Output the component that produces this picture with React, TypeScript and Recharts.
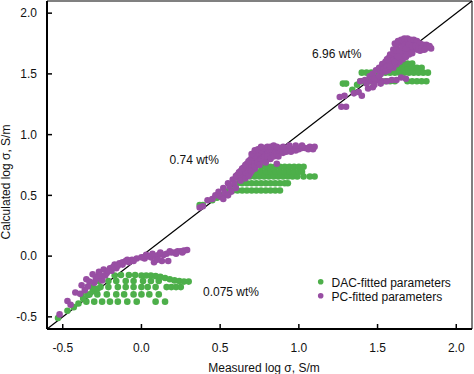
import { ScatterChart, Scatter, XAxis, YAxis, ReferenceLine } from 'recharts'

type Pt = [number, number]

// DAC-fitted parameters (green)
const dacLow: Pt[] = [
  [-0.53, -0.51], [-0.47, -0.45], [-0.43, -0.42], [-0.40, -0.39], [-0.37, -0.35], [-0.34, -0.32], [-0.31, -0.29], [-0.28, -0.27],
  [-0.35, -0.375], [-0.30, -0.375], [-0.25, -0.375], [-0.20, -0.375], [-0.15, -0.375], [-0.09, -0.375], [-0.03, -0.375], [0.09, -0.375], [0.15, -0.375],
  [-0.38, -0.315], [-0.33, -0.315], [-0.28, -0.315], [-0.22, -0.315], [-0.16, -0.315], [-0.11, -0.315], [-0.05, -0.315], [0.0, -0.315], [0.05, -0.315], [0.11, -0.315],
  [-0.31, -0.255], [-0.26, -0.255], [-0.21, -0.255], [-0.15, -0.255], [-0.10, -0.255], [-0.05, -0.255], [0.0, -0.255], [0.04, -0.255], [0.09, -0.255], [0.16, -0.255], [0.19, -0.255], [0.22, -0.255], [0.25, -0.255],
  [-0.27, -0.205], [-0.21, -0.205], [-0.16, -0.205], [-0.10, -0.205], [-0.05, -0.205], [0.01, -0.205], [0.06, -0.205], [0.11, -0.205],
  [-0.17, -0.16], [-0.13, -0.155], [-0.08, -0.155], [-0.04, -0.155], [0.0, -0.16], [0.03, -0.16], [0.06, -0.16], [0.09, -0.165], [0.12, -0.17],
  [0.15, -0.18], [0.18, -0.19], [0.21, -0.20], [0.24, -0.205], [0.27, -0.21], [0.30, -0.21],
]
const dacMid: Pt[] = [
  [0.37, 0.42], [0.39, 0.42], [0.45, 0.46], [0.48, 0.48], [0.51, 0.50], [0.54, 0.53], [0.56, 0.55],
  [0.58, 0.54], [0.61, 0.54], [0.64, 0.54], [0.67, 0.54], [0.70, 0.54], [0.73, 0.54], [0.76, 0.54], [0.79, 0.54], [0.82, 0.54], [0.85, 0.54], [0.88, 0.54],
  [0.61, 0.60], [0.64, 0.60], [0.67, 0.60], [0.70, 0.60], [0.73, 0.60], [0.76, 0.60], [0.79, 0.60], [0.82, 0.60], [0.85, 0.60], [0.88, 0.60], [0.91, 0.60], [0.93, 0.60],
  [0.66, 0.655], [0.69, 0.655], [0.72, 0.655], [0.75, 0.655], [0.78, 0.655], [0.81, 0.655], [0.84, 0.655], [0.87, 0.655], [0.90, 0.655], [0.93, 0.655], [0.96, 0.655], [0.99, 0.655], [1.03, 0.655], [1.07, 0.655], [1.10, 0.655],
  [0.70, 0.695], [0.73, 0.695], [0.76, 0.695], [0.79, 0.695], [0.82, 0.695], [0.85, 0.695], [0.88, 0.695], [0.91, 0.695], [0.94, 0.695], [0.97, 0.695], [1.00, 0.695], [1.02, 0.695],
  [0.76, 0.735], [0.79, 0.735], [0.82, 0.735], [0.85, 0.735], [0.88, 0.735], [0.91, 0.735], [0.94, 0.735], [0.97, 0.735], [1.00, 0.735], [1.03, 0.735],
]
const dacHigh: Pt[] = [
  [1.28, 1.42], [1.30, 1.42], [1.34, 1.37], [1.37, 1.41], [1.40, 1.44],
  [1.39, 1.44], [1.42, 1.44], [1.45, 1.44], [1.48, 1.44], [1.52, 1.44], [1.55, 1.44], [1.58, 1.44], [1.61, 1.44], [1.69, 1.44], [1.72, 1.44], [1.75, 1.44], [1.78, 1.44], [1.81, 1.44],
  [1.40, 1.51], [1.43, 1.51], [1.46, 1.51], [1.49, 1.51], [1.52, 1.51], [1.55, 1.51], [1.58, 1.51], [1.61, 1.51], [1.64, 1.51], [1.67, 1.51], [1.70, 1.51], [1.73, 1.51], [1.76, 1.51], [1.79, 1.51], [1.82, 1.51],
  [1.63, 1.55], [1.66, 1.55], [1.69, 1.55], [1.72, 1.55], [1.75, 1.55], [1.78, 1.55],
  [1.66, 1.585], [1.69, 1.585], [1.72, 1.585],
]

// PC-fitted parameters (purple)
const pcLow: Pt[] = [
  [-0.52, -0.48], [-0.47, -0.37], [-0.45, -0.40], [-0.42, -0.30], [-0.39, -0.31], [-0.38, -0.24], [-0.35, -0.19], [-0.34, -0.25],
  [-0.31, -0.15], [-0.30, -0.22], [-0.28, -0.17], [-0.27, -0.13], [-0.25, -0.20], [-0.24, -0.11], [-0.22, -0.14], [-0.20, -0.10],
  [-0.19, -0.12], [-0.17, -0.07], [-0.16, -0.10], [-0.14, -0.06], [-0.12, -0.07], [-0.10, -0.04], [-0.08, -0.05], [-0.06, -0.03],
  [-0.03, -0.02], [0.0, -0.01], [0.02, -0.02], [0.04, 0.0], [0.06, -0.01], [0.08, -0.05], [0.09, 0.0], [0.11, 0.01], [0.13, -0.04],
  [0.14, 0.01], [0.16, 0.02], [0.17, -0.04], [0.19, 0.03], [0.21, 0.03], [0.23, 0.04], [0.25, 0.04], [0.27, 0.045], [0.29, 0.05],
  [-0.36, -0.28], [-0.33, -0.21], [-0.29, -0.19], [-0.26, -0.16], [-0.23, -0.16], [-0.21, -0.12], [-0.18, -0.09], [-0.15, -0.08],
  [-0.12, -0.05], [-0.09, -0.03], [-0.05, -0.04], [0.03, 0.01], [0.07, 0.02], [0.12, 0.03], [0.10, -0.03], [0.18, 0.04], [0.22, 0.02], [0.26, 0.03],
]
const pcMid: Pt[] = [
  [0.37, 0.40], [0.39, 0.41], [0.42, 0.46], [0.45, 0.47], [0.47, 0.50], [0.49, 0.53], [0.50, 0.49], [0.52, 0.56], [0.53, 0.52],
  [0.55, 0.60], [0.56, 0.57], [0.58, 0.63], [0.59, 0.60], [0.61, 0.67], [0.62, 0.64], [0.63, 0.70], [0.64, 0.66], [0.65, 0.73],
  [0.66, 0.69], [0.67, 0.76], [0.68, 0.72], [0.69, 0.79], [0.70, 0.75], [0.71, 0.81], [0.72, 0.77], [0.73, 0.84], [0.74, 0.80],
  [0.75, 0.86], [0.76, 0.82], [0.77, 0.87], [0.78, 0.84], [0.79, 0.88], [0.80, 0.85], [0.81, 0.88], [0.83, 0.87], [0.84, 0.89],
  [0.86, 0.88], [0.88, 0.89], [0.90, 0.87], [0.92, 0.88], [0.94, 0.89], [0.96, 0.88], [0.98, 0.89], [1.00, 0.88], [1.02, 0.89],
  [1.04, 0.89], [1.07, 0.90], [1.10, 0.90], [0.86, 0.76], [0.72, 0.72], [0.69, 0.68], [0.63, 0.62], [0.82, 0.83], [0.85, 0.85],
  [0.60, 0.66], [0.62, 0.69], [0.64, 0.72], [0.66, 0.75], [0.68, 0.78], [0.70, 0.81], [0.72, 0.83], [0.74, 0.85], [0.76, 0.87],
  [0.78, 0.89], [0.80, 0.90], [0.82, 0.90], [0.84, 0.91], [0.70, 0.84], [0.72, 0.87], [0.74, 0.88], [0.76, 0.90],
  [0.66, 0.64], [0.68, 0.66], [0.70, 0.70], [0.72, 0.74], [0.74, 0.77], [0.76, 0.79], [0.78, 0.81], [0.80, 0.82], [0.82, 0.80],
  [0.84, 0.82], [0.86, 0.84], [0.88, 0.85], [0.90, 0.85], [0.87, 0.82], [0.79, 0.77], [0.75, 0.75], [0.60, 0.56], [0.57, 0.53],
  [0.55, 0.50], [0.52, 0.47], [0.92, 0.86], [0.95, 0.86], [0.98, 0.87], [1.06, 0.88], [1.09, 0.88], [0.86, 0.90], [0.90, 0.90],
  [0.94, 0.91], [0.98, 0.91], [1.02, 0.91],
]
const pcHigh: Pt[] = [
  [1.26, 1.31], [1.29, 1.32], [1.27, 1.23], [1.30, 1.23], [1.35, 1.34], [1.38, 1.35], [1.40, 1.32], [1.44, 1.38], [1.47, 1.39],
  [1.39, 1.44], [1.42, 1.45], [1.43, 1.42], [1.46, 1.44], [1.45, 1.48], [1.47, 1.50], [1.50, 1.45], [1.53, 1.44], [1.56, 1.44],
  [1.59, 1.45], [1.68, 1.46], [1.49, 1.53], [1.51, 1.55], [1.53, 1.58], [1.54, 1.54], [1.55, 1.60], [1.56, 1.56], [1.57, 1.63],
  [1.58, 1.59], [1.59, 1.65], [1.60, 1.62], [1.60, 1.70], [1.61, 1.68], [1.62, 1.63], [1.62, 1.72], [1.63, 1.66], [1.64, 1.62],
  [1.64, 1.75], [1.65, 1.70], [1.66, 1.66], [1.66, 1.77], [1.67, 1.72], [1.68, 1.68], [1.68, 1.76], [1.69, 1.73], [1.70, 1.69],
  [1.70, 1.77], [1.71, 1.72], [1.72, 1.75], [1.73, 1.71], [1.74, 1.76], [1.75, 1.70], [1.76, 1.74], [1.77, 1.69], [1.78, 1.73],
  [1.79, 1.70], [1.80, 1.72], [1.82, 1.72], [1.84, 1.71],
  [1.56, 1.62], [1.58, 1.66], [1.60, 1.67], [1.62, 1.69], [1.61, 1.75], [1.63, 1.77], [1.65, 1.78], [1.67, 1.79], [1.69, 1.79],
  [1.71, 1.78], [1.73, 1.78], [1.75, 1.77], [1.77, 1.75], [1.79, 1.74], [1.81, 1.74], [1.83, 1.73], [1.64, 1.68], [1.66, 1.72],
  [1.68, 1.71], [1.70, 1.74], [1.72, 1.73], [1.74, 1.73], [1.76, 1.71], [1.78, 1.71], [1.80, 1.70], [1.57, 1.53], [1.60, 1.55],
  [1.62, 1.58], [1.64, 1.60], [1.66, 1.62], [1.68, 1.64], [1.70, 1.66], [1.72, 1.67], [1.52, 1.50], [1.55, 1.52], [1.58, 1.56],
  [1.61, 1.60], [1.63, 1.64], [1.48, 1.46], [1.51, 1.48], [1.62, 1.45], [1.65, 1.47], [1.48, 1.41], [1.52, 1.42],
]

const xTicks = [-0.5, 0, 0.5, 1, 1.5, 2]
const yTicks = [-0.5, 0, 0.5, 1, 1.5, 2]
const annotations = [
  { text: '6.96 wt%', x: 312, y: 57.5 },
  { text: '0.74 wt%', x: 169.5, y: 163.5 },
  { text: '0.075 wt%', x: 203, y: 296 },
]

const GREEN = '#4daf4a'
const PURPLE = '#984ea3'
const FONT = '"Liberation Sans", Arial, sans-serif'

const toData = (pts: Pt[]) => pts.map(([x, y]) => ({ x, y }))
const dot = (color: string) => (p: any) => <circle cx={p.cx} cy={p.cy} r={3.3} fill={color} />

export default function App() {
  const dac = toData([...dacLow, ...dacMid, ...dacHigh])
  const pc = toData([...pcLow, ...pcMid, ...pcHigh])
  const tickStyle = { fontSize: 12, fill: '#111', fontFamily: FONT }
  return (
    <div style={{ position: 'absolute', left: 0, top: 0, width: 474, height: 374, background: '#fff' }}>
      <ScatterChart width={474} height={374} margin={{ top: 1, right: 2, bottom: 0, left: 0 }}>
        <XAxis type="number" dataKey="x" domain={[-0.6, 2.1]} ticks={xTicks} allowDataOverflow
          tickFormatter={(v) => Number(v).toFixed(1)} height={45} tickSize={-5} tickMargin={19}
          axisLine={{ stroke: '#000', strokeWidth: 2 }} tickLine={{ stroke: '#000', strokeWidth: 1.5 }} tick={tickStyle} />
        <YAxis type="number" dataKey="y" domain={[-0.6, 2.1]} ticks={yTicks} allowDataOverflow
          tickFormatter={(v) => Number(v).toFixed(1)} width={47} tickSize={-5} tickMargin={15}
          axisLine={{ stroke: '#000', strokeWidth: 2 }} tickLine={{ stroke: '#000', strokeWidth: 1.5 }} tick={tickStyle} />
        <ReferenceLine y={2.1} stroke="#808080" strokeWidth={2} />
        <ReferenceLine x={2.1} stroke="#808080" strokeWidth={2} />
        <Scatter data={dac} fill={GREEN} shape={dot(GREEN)} isAnimationActive={false} />
        <Scatter data={pc} fill={PURPLE} shape={dot(PURPLE)} isAnimationActive={false} />
        <ReferenceLine segment={[{ x: -0.6, y: -0.6 }, { x: 2.1, y: 2.1 }]} stroke="#000" strokeWidth={1.2} />
      </ScatterChart>
      <svg width={474} height={374} style={{ position: 'absolute', left: 0, top: 0, pointerEvents: 'none' }}
        fontFamily={FONT} fontSize={12} fill="#111">
        {annotations.map(a => <text key={a.text} x={a.x} y={a.y}>{a.text}</text>)}
        <text x={264} y={372} textAnchor="middle">Measured log σ, S/m</text>
        <text transform="translate(9.5,182) rotate(-90)" textAnchor="middle">Calculated log σ, S/m</text>
        <circle cx={320.7} cy={281.7} r={2.8} fill={GREEN} />
        <text x={331.5} y={286.5}>DAC-fitted parameters</text>
        <circle cx={320.7} cy={295.7} r={2.8} fill={PURPLE} />
        <text x={331.5} y={300.5}>PC-fitted parameters</text>
      </svg>
    </div>
  )
}
